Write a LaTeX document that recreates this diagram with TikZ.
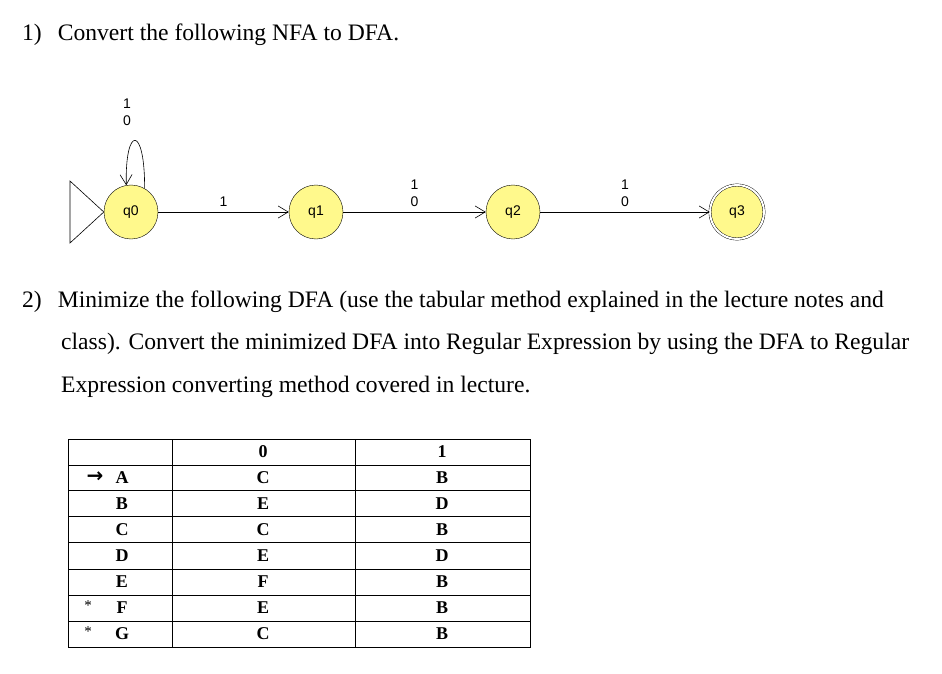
\documentclass[tikz,border=0pt]{standalone}
\usepackage{fontspec}
\setmainfont{Liberation Serif}
\newfontfamily\arialf{Liberation Sans}
\usetikzlibrary{arrows.meta}
\begin{document}
\begin{tikzpicture}[x=1pt,y=-1pt,
  st/.style={circle,draw,fill=yellow!45,minimum size=54pt,inner sep=0pt,font=\arialf\fontsize{14}{14}\selectfont},
  lbl/.style={font=\arialf\fontsize{14}{17}\selectfont,align=center,inner sep=1pt},
  tx/.style={anchor=base west,inner sep=0pt,font=\fontsize{23.6}{26}\selectfont},
  cell/.style={font=\bfseries\fontsize{18}{18}\selectfont,inner sep=0pt},
  arr/.style={-{Straight Barb[length=10pt,width=12pt]},line width=0.6pt}]
\useasboundingbox (0,0) rectangle (942,674);
\node[tx] (t1) at (22,41) {1)\hspace{16pt}Convert the following NFA to DFA.};
\node[st] (q0) at (131,212) {q0};
\node[st] (q1) at (316,212) {q1};
\node[st] (q2) at (513,212) {q2};
\node[st,double,double distance=2pt] (q3) at (737,212) {q3};
\coordinate (i1) at (70,181); \coordinate (i2) at (70,243);
\draw[line width=0.6pt] (i1) -- (q0.west) -- (i2) -- cycle;
\draw[arr] (q0.60) .. controls (145,125) and (125,125) .. (q0.100);
\node[lbl] (l0) at (127,112) {1\\0};
\draw[arr] (q0) -- (q1) node[lbl,midway,above=4pt] (l1) {1};
\draw[arr] (q1) -- (q2) node[lbl,midway,above=4pt] (l2) {1\\0};
\draw[arr] (q2) -- (q3) node[lbl,midway,above=4pt] (l3) {1\\0};
\node[tx] (t2) at (22,307) {2)\hspace{16pt}Minimize the following DFA (use the tabular method explained in the lecture notes and};
\node[tx] (t3) at (61,349) {class). Convert the minimized DFA into Regular Expression by using the DFA to Regular};
\node[tx] (t4) at (61,392) {Expression converting method covered in lecture.};
\draw[line width=0.8pt] (68,439) rectangle (530,647);
\foreach \y in {465,490,516,542,569,595,621} \draw[line width=0.8pt] (68,\y) -- (530,\y);
\foreach \x in {172,355} \draw[line width=0.8pt] (\x,439) -- (\x,647);
\node[cell] (h0) at (263,452) {0};
\node[cell] (h1) at (442,452) {1};
\foreach \r/\z/\o [count=\i] in {A/C/B,B/E/D,C/C/B,D/E/D,E/F/B,F/E/B,G/C/B}{
  \node[cell] (r\i) at (122,452+25.95*\i) {\r};
  \node[cell] (z\i) at (263,452+25.95*\i) {\z};
  \node[cell] (o\i) at (442,452+25.95*\i) {\o};
}
\node[inner sep=0pt] (ar) at (95,477) {\fontspec{DejaVu Sans}\bfseries\fontsize{20}{20}\selectfont→};
\node[cell,font=\fontsize{15}{15}\selectfont] (s1) at (88,606) {*};
\node[cell,font=\fontsize{15}{15}\selectfont] (s2) at (88,632) {*};
\end{tikzpicture}
\end{document}
